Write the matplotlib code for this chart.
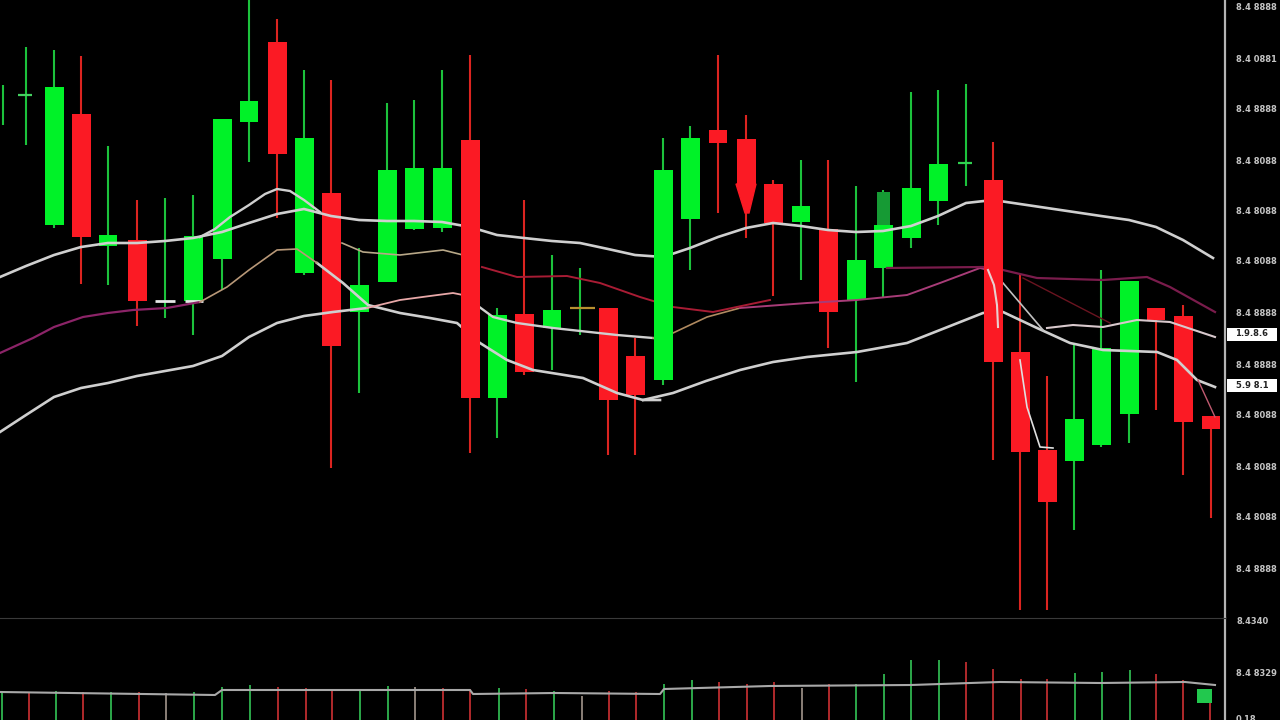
import matplotlib
matplotlib.use("Agg")
import matplotlib.pyplot as plt
from matplotlib.patches import Rectangle

# candles, levels (axis runs top down like the screen)
bar_x = [3, 26, 54, 81, 108, 137, 165, 193, 222, 249, 277, 304, 331, 359, 387, 414, 442, 470, 497, 524, 552, 580,
         608, 635, 663, 690, 718, 746, 773, 801, 828, 856, 883, 911, 938, 966, 993, 1020, 1047, 1074, 1101, 1129,
         1156, 1183, 1211]
bar_up = [1, 1, 1, 0, 1, 0, 1, 1, 1, 1, 0, 1, 0, 1, 1, 1, 1, 0, 1, 0, 1, 1,
          0, 0, 1, 1, 0, 0, 0, 1, 0, 1, 1, 1, 1, 1, 0, 0, 0, 1, 1, 1,
          0, 0, 0]
body_top = [105, 95, 87, 114, 235, 240, 301, 236, 119, 101, 42, 138, 193, 285, 170, 168, 168, 140, 315, 314, 310, 308,
            308, 356, 170, 138, 130, 139, 184, 206, 229, 260, 225, 188, 164, 163, 180, 352, 450, 419, 348, 281,
            308, 316, 416]
body_bot = [105, 96, 225, 237, 246, 301, 302, 301, 259, 122, 154, 273, 346, 312, 282, 229, 228, 398, 398, 372, 328, 309,
            400, 395, 380, 219, 143, 184, 223, 222, 312, 300, 268, 238, 201, 164, 362, 452, 502, 461, 445, 414,
            320, 422, 429]
wick_top = [85, 47, 50, 56, 146, 200, 198, 195, 119, 0, 19, 70, 80, 248, 103, 100, 70, 55, 308, 200, 255, 268,
            308, 338, 138, 126, 55, 115, 180, 160, 160, 186, 190, 92, 90, 84, 142, 275, 376, 345, 270, 281,
            308, 305, 416]
wick_bot = [125, 145, 228, 284, 285, 326, 318, 335, 290, 162, 218, 275, 468, 393, 282, 230, 232, 453, 438, 375, 370, 335,
            455, 455, 385, 270, 213, 238, 296, 280, 348, 382, 298, 248, 225, 186, 460, 610, 610, 530, 447, 443,
            410, 475, 518]
# these bodies sit in front of the average lines
front_bars = [470, 663, 993]

# moving average pieces
upper_x = [0, 26, 54, 81, 108, 137, 165, 193, 222, 249, 277, 304, 331, 359, 387, 414, 442, 470, 497, 524, 552, 580,
           608, 635, 663, 690, 718, 746, 773, 801, 828, 856, 883, 911, 938, 966, 993, 1020, 1047, 1074, 1101, 1129,
           1156, 1183, 1213]
upper_y = [277, 266, 255, 247, 243, 243, 241, 238, 232, 223, 214, 209, 216, 220, 221, 221, 222, 227, 235, 238, 241, 243,
           249, 255, 257, 248, 237, 228, 223, 226, 230, 232, 231, 226, 216, 203, 200, 204, 208, 212, 216, 220,
           227, 240, 258]
fast_x = [200, 215, 230, 249, 265, 277, 290, 304, 320]
fast_y = [237, 229, 217, 205, 194, 189, 191, 200, 212]
purple_x = [0, 33, 54, 83, 108, 133, 167, 200]
purple_y = [353, 338, 327, 317, 313, 310, 308, 302]
tan_x = [200, 227, 249, 277, 297, 317]
tan_y = [302, 287, 270, 250, 249, 263]
drop_x = [317, 343, 368, 400, 430, 457, 480, 507, 533, 583, 617, 643, 660]
drop_y = [263, 283, 305, 313, 318, 323, 343, 360, 370, 378, 393, 400, 400]
lower_x = [0, 26, 54, 81, 108, 137, 165, 193, 222, 249, 277, 304, 333, 367]
lower_y = [432, 415, 397, 388, 383, 376, 371, 366, 356, 337, 323, 316, 312, 308]
pink_x = [367, 400, 430, 453, 463]
pink_y = [308, 300, 296, 293, 295]
grey_x = [463, 493, 517, 553, 617, 653]
grey_y = [295, 317, 323, 328, 335, 338]
orange_x = [653, 673, 707, 740]
orange_y = [338, 333, 317, 308]
plum_x = [740, 807, 857, 907, 940, 980, 988]
plum_y = [308, 303, 300, 295, 283, 268, 270]
arc_x = [988, 994, 997, 998]
arc_y = [270, 285, 305, 327]
base_x = [643, 673, 706, 740, 773, 807, 857, 907, 940, 983, 1003, 1037, 1070, 1103, 1157, 1177, 1197, 1215]
base_y = [400, 393, 381, 370, 362, 357, 352, 343, 330, 313, 312, 328, 343, 350, 352, 360, 380, 387]
tan2_x = [342, 363, 400, 443, 463]
tan2_y = [243, 252, 255, 250, 255]
red_x = [482, 517, 567, 600, 640, 673, 713, 770]
red_y = [267, 277, 276, 283, 297, 307, 312, 300]
wine_x = [887, 983, 1003, 1037, 1103, 1147, 1170, 1215]
wine_y = [268, 267, 270, 278, 280, 277, 287, 312]
thin_red_x = [1023, 1110]
thin_red_y = [278, 323]
slide_x = [1003, 1043]
slide_y = [283, 330]
side_x = [1047, 1073, 1103, 1137, 1170, 1215]
side_y = [328, 325, 327, 320, 322, 337]
fall_x = [1020, 1027, 1040, 1053]
fall_y = [360, 407, 447, 448]
tail_x = [1198, 1215]
tail_y = [380, 417]

# lower panel
vol_x = [2, 29, 56, 83, 111, 139, 166, 194, 222, 250, 278, 306, 332, 360, 388, 415, 443, 470, 499, 526, 554, 582,
         609, 636, 664, 692, 719, 747, 774, 802, 829, 856, 884, 911, 939, 966, 993, 1021, 1047, 1075, 1102, 1130,
         1156, 1183, 1210]
vol_top = [692, 692, 691, 692, 692, 692, 693, 692, 687, 685, 687, 688, 689, 689, 686, 687, 688, 689, 688, 689, 691, 696,
           691, 692, 684, 680, 682, 684, 682, 688, 684, 684, 674, 660, 660, 662, 669, 679, 679, 673, 672, 670,
           674, 680, 690]
vol_up = [1, 0, 1, 0, 1, 0, 2, 1, 1, 1, 0, 0, 0, 1, 1, 2, 0, 0, 1, 0, 1, 2,
          0, 0, 1, 1, 0, 0, 0, 2, 0, 1, 1, 1, 1, 0, 0, 0, 0, 1, 1, 1,
          0, 0, 0]
vol_line_x = [0, 215, 222, 470, 473, 555, 660, 664, 770, 911, 1000, 1100, 1185, 1215]
vol_line_y = [692, 695, 690, 690, 694, 693, 694, 689, 686, 685, 682, 683, 682, 685]

price_ticks = [7, 58, 109, 160, 211, 261, 313, 365, 415, 466, 517, 568]
price_labels = ["8.4 8888", "8.4 0881", "8.4 8888", "8.4 8088", "8.4 8088", "8.4 8088",
                "8.4 8888", "8.4 8888", "8.4 8088", "8.4 8088", "8.4 8088", "8.4 8888"]
vol_ticks = [620, 672, 718]
vol_labels = ["8.4340", "8.4 8329", "0.18"]
tag_levels = [334, 385]
tag_labels = ["1.9.8.6", "5.9 8.1"]

GREEN = "#00f228"
RED = "#fb1a24"
WICK_GREEN = "#1cc23c"
WICK_RED = "#dc2420"
LINE = "#cfcfcf"
AXIS = "#b4b4b4"
LABEL = "#c4c4c4"

fig = plt.figure(figsize=(12.8, 7.2), dpi=100, facecolor="black")
ax = fig.add_axes([0, 102 / 720, 1225 / 1280, 618 / 720], facecolor="black")
ax_vol = fig.add_axes([0, 0, 1225 / 1280, 102 / 720], facecolor="black")

for x, up, top, bot, hi, lo in zip(bar_x, bar_up, body_top, body_bot, wick_top, wick_bot):
    z = 5 if x in front_bars else 2
    ax.vlines(x, hi, lo, color=WICK_GREEN if up else WICK_RED, lw=1.5, zorder=z - 1)
    if bot - top >= 3:
        ax.bar(x, bot - top, bottom=top, width=19 if bot - top > 25 else 18, color=GREEN if up else RED, zorder=z)

# odd shapes in the picture: dull top on one body, tapered tail on another, doji dashes
ax.bar(883, 33, bottom=192, width=13, color="#169a34", zorder=3)
ax.fill([736, 756, 749, 745], [184, 184, 213, 213], color=RED, zorder=2)
ax.hlines([95, 163, 308], [18, 958, 570], [32, 972, 595], color=["#44d060", "#30d050", "#b89030"], lw=1.6, zorder=3)
ax.hlines([301, 301], [155, 185], [175, 203], color="#e6e6e6", lw=2, zorder=4)

ax.plot(upper_x, upper_y, color=LINE, lw=1.9, zorder=4)
ax.plot(fast_x, fast_y, color=LINE, lw=1.7, zorder=4)
ax.plot(lower_x, lower_y, color=LINE, lw=1.9, zorder=4)
ax.plot(base_x, base_y, color=LINE, lw=1.9, zorder=4)
ax.plot(drop_x, drop_y, color=LINE, lw=1.9, zorder=4)
ax.plot(grey_x, grey_y, color=LINE, lw=1.7, zorder=4)
ax.plot(purple_x, purple_y, color="#8c2468", lw=1.6, zorder=4)
ax.plot(tan_x, tan_y, color="#b89878", lw=1.2, zorder=4)
ax.plot(tan2_x, tan2_y, color="#b8a888", lw=1.2, zorder=4)
ax.plot(pink_x, pink_y, color="#e8a8a8", lw=1.3, zorder=4)
ax.plot(orange_x, orange_y, color="#b08a60", lw=1.2, zorder=4)
ax.plot(plum_x, plum_y, color="#a83c78", lw=1.4, zorder=4)
ax.plot(arc_x, arc_y, color="#e8d0d0", lw=1.5, zorder=6)
ax.plot(red_x, red_y, color="#a81c34", lw=1.4, zorder=4)
ax.plot(wine_x, wine_y, color="#7a1c4c", lw=1.6, zorder=4)
ax.plot(thin_red_x, thin_red_y, color="#6a1420", lw=1, zorder=4)
ax.plot(slide_x, slide_y, color="#c0c0c0", lw=1.2, zorder=4)
ax.plot(side_x, side_y, color="#d8c8cc", lw=1.5, zorder=4)
ax.plot(fall_x, fall_y, color="#e0e0e0", lw=1.2, zorder=6)
ax.plot(tail_x, tail_y, color="#c05a70", lw=1, zorder=4)

ax.set_xlim(0, 1225)
ax.set_ylim(618, 0)
ax.set_xticks([])
ax.yaxis.tick_right()
ax.set_yticks(price_ticks, price_labels, color=LABEL, fontsize=6, fontweight="bold")
ax.tick_params(axis="y", length=0, pad=8)

for level, label in zip(tag_levels, tag_labels):
    ax.add_patch(Rectangle((1227, level - 6.5), 50, 13, facecolor="white", edgecolor="none", clip_on=False, zorder=7))
    ax.text(1252, level, label, color="#222222", fontsize=6, fontweight="bold", ha="center", va="center",
            clip_on=False, zorder=8)

for x, top, up in zip(vol_x, vol_top, vol_up):
    colour = {0: "#b02a2c", 1: "#2ca84a", 2: "#8a8078"}[up]
    ax_vol.vlines(x, top, 720, color=colour, lw=1.4, zorder=2)
ax_vol.plot(vol_line_x, vol_line_y, color="#a8a8a8", lw=1.5, zorder=3)
ax_vol.bar(1204, 14, bottom=689, width=15, color="#22c84e", zorder=4)

ax_vol.set_xlim(0, 1225)
ax_vol.set_ylim(720, 618)
ax_vol.set_xticks([])
ax_vol.yaxis.tick_right()
ax_vol.set_yticks(vol_ticks, vol_labels, color=LABEL, fontsize=6, fontweight="bold")
ax_vol.tick_params(axis="y", length=0, pad=8)

for a in (ax, ax_vol):
    for side in ("left", "top", "bottom"):
        a.spines[side].set_visible(False)
    a.spines["right"].set_color(AXIS)
    a.spines["right"].set_linewidth(1.6)
ax_vol.spines["top"].set_visible(True)
ax_vol.spines["top"].set_color("#3a3a3a")
ax_vol.spines["top"].set_linewidth(0.8)

fig.savefig("out.png", dpi=100, facecolor="black")
